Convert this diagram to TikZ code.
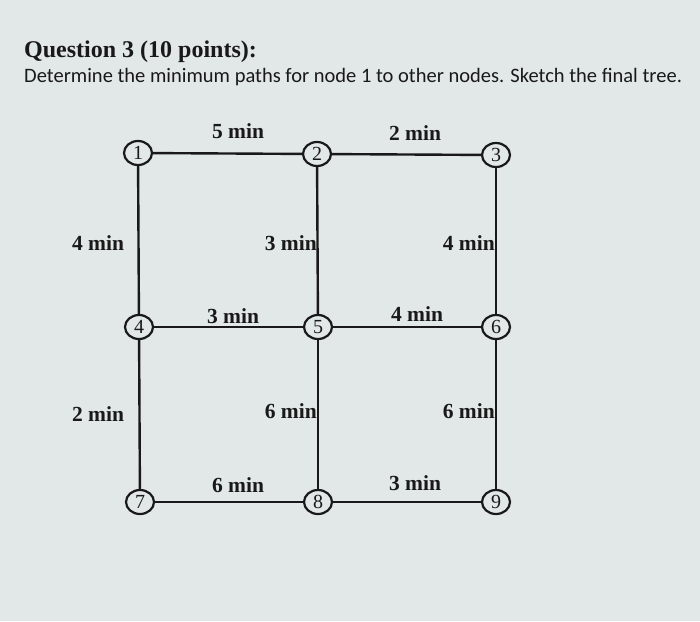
\documentclass[tikz,border=0pt]{standalone}
\usetikzlibrary{shapes.geometric}
\usepackage{fontspec}
\setmainfont{Liberation Serif}
\newfontfamily\calfont{Carlito}
\definecolor{bg}{RGB}{226,231,231}
\definecolor{ink}{RGB}{25,25,25}
\begin{document}
\begin{tikzpicture}[x=1pt,y=-1pt,
  nd/.style={ellipse,draw=ink,line width=2.2pt,fill=bg,minimum width=28pt,minimum height=24pt,inner sep=0pt,font=\fontsize{20}{20}\selectfont,text=ink},
  edge/.style={draw=ink,line width=2.4pt},
  lbl/.style={font=\fontsize{21.5}{21.5}\selectfont\bfseries,text=ink,inner sep=0pt}]
\fill[bg] (0,0) rectangle (700,621);
\useasboundingbox (0,0) rectangle (700,621);
\node[anchor=base west,inner sep=0pt,font=\fontsize{24}{24}\selectfont\bfseries,text=ink] (title) at (24,57) {Question 3 (10 points):};
\node[anchor=base west,inner sep=0pt,font=\calfont\fontsize{20.5}{20.5}\selectfont,text=ink] (sub) at (24,82) {Determine the minimum paths for node 1 to other nodes. Sketch the final tree.};
\node[nd] (n1) at (138,153) {1};
\node[nd] (n2) at (317,154) {2};
\node[nd] (n3) at (496,155) {3};
\node[nd] (n4) at (139,327) {4};
\node[nd] (n5) at (318,327) {5};
\node[nd] (n6) at (496,327) {6};
\node[nd] (n7) at (140,502) {7};
\node[nd] (n8) at (318,502) {8};
\node[nd] (n9) at (496,502) {9};
\draw[edge] (n1) -- (n2);
\draw[edge] (n2) -- (n3);
\draw[edge] (n4) -- (n5);
\draw[edge] (n5) -- (n6);
\draw[edge] (n7) -- (n8);
\draw[edge] (n8) -- (n9);
\draw[edge] (n1) -- (n4);
\draw[edge] (n4) -- (n7);
\draw[edge] (n2) -- (n5);
\draw[edge] (n5) -- (n8);
\draw[edge] (n3) -- (n6);
\draw[edge] (n6) -- (n9);
\node[lbl] (l12) at (238,131) {5 min};
\node[lbl] (l23) at (415,133) {2 min};
\node[lbl] (l14) at (98,243) {4 min};
\node[lbl,anchor=east] (l25) at (317,243) {3 min};
\node[lbl,anchor=east] (l36) at (495,243) {4 min};
\node[lbl] (l45) at (233,316) {3 min};
\node[lbl] (l56) at (417,314) {4 min};
\node[lbl] (l47) at (98,414) {2 min};
\node[lbl,anchor=east] (l58) at (317,411) {6 min};
\node[lbl,anchor=east] (l69) at (495,411) {6 min};
\node[lbl] (l78) at (238,485) {6 min};
\node[lbl] (l89) at (415,483) {3 min};
\end{tikzpicture}
\end{document}
